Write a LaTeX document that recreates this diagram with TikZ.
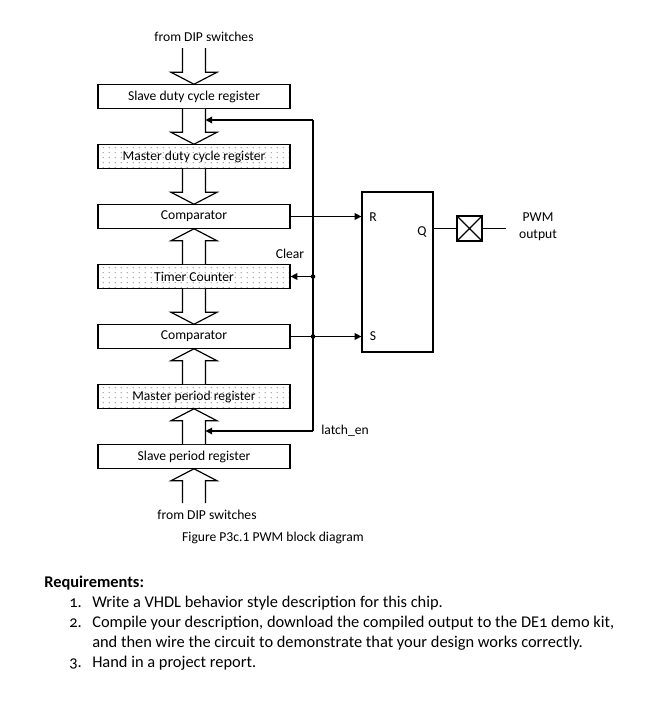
\documentclass[tikz,border=0pt]{standalone}
\usepackage{fontspec}
\setmainfont{Carlito}
\newfontfamily\reqfont[Numbers=OldStyle]{Carlito}
\usetikzlibrary{arrows.meta,calc,patterns}
\pgfdeclarepatternformonly{sdots}{\pgfpointorigin}{\pgfpoint{4.5pt}{3.6pt}}{\pgfpoint{4.5pt}{3.6pt}}{%
  \pgfpathcircle{\pgfpoint{1pt}{1pt}}{0.45pt}\pgfusepath{fill}}
\tikzset{
  blk/.style={draw,line width=0.9pt,minimum width=144pt,minimum height=17.5pt,inner sep=0pt,font=\fontsize{10.2pt}{12pt}\selectfont,fill=white},
  dotblk/.style={blk,pattern=sdots,pattern color=black!65},
  lbl/.style={inner sep=0pt,font=\fontsize{10.2pt}{12pt}\selectfont},
  wire/.style={line width=0.9pt},
  arr/.style={wire,-{Triangle[length=5pt,width=5pt]}},
  hol/.style={line width=0.9pt,fill=white,line join=miter},
  req/.style={inner sep=0pt,anchor=base west,font=\reqfont\fontsize{12.3pt}{15pt}\selectfont},
}
\newcommand\harrow[3]{%
  \draw[hol] ($(#1)+(-11.5,0)$) -- ($(#2)+(-11.5,#3)$) -- ($(#2)+(-23,#3)$) -- (#2)
     -- ($(#2)+(23,#3)$) -- ($(#2)+(11.5,#3)$) -- ($(#1)+(11.5,0)$);}
\begin{document}
\begin{tikzpicture}[x=0.75pt,y=-0.75pt]
\useasboundingbox (0,0) rectangle (660,721);
% blocks
\node[blk] (sdc) at (194,96.5) {Slave duty cycle register};
\node[dotblk] (mdc) at (194,156.5) {};
\node[lbl] at (mdc) {Master duty cycle register};
\node[blk] (cmp1) at (194,216.5) {Comparator};
\node[dotblk] (tc) at (194,276.5) {};
\node[lbl] at (tc) {Timer Counter};
\node[blk] (cmp2) at (194,336.5) {Comparator};
\node[dotblk] (mpr) at (194,396.5) {};
\node[lbl] at (mpr) {Master period register};
\node[blk] (spr) at (194,456.5) {Slave period register};
% sr latch
\node[draw,line width=0.9pt,minimum width=53.25pt,minimum height=120pt,inner sep=0pt] (sr) at (397.5,272) {};
\node[lbl] (rl) at (373,217) {R};
\node[lbl] (sl) at (373,336) {S};
\node[lbl] (ql) at (422,232) {Q};
% output pad
\node[draw,line width=0.9pt,minimum width=18.75pt,minimum height=18.75pt,inner sep=0pt] (pad) at (469.5,228.5) {};
\draw[wire] (pad.north west) -- (pad.south east) (pad.south west) -- (pad.north east);
\coordinate (qo) at (sr.east |- pad.west);
\draw[wire] (qo) -- (pad.west);
\coordinate (pe) at (506,228.5);
\draw[wire] (pad.east) -- (pe);
\node[lbl,align=center,font=\fontsize{10.2pt}{13pt}\selectfont] (pwm) at (538,227) {PWM\\output};
% texts
\node[lbl] (dip1) at (204,37) {from DIP switches};
\node[lbl] (dip2) at (207,515) {from DIP switches};
\node[lbl] (clr) at (290,254) {Clear};
\node[lbl] (len) at (345,431) {latch\_en};
\node[lbl] (cap) at (273,538) {Figure P3c.1 PWM block diagram};
% hollow arrows
\coordinate (t0) at (194,48);
\coordinate (b0) at (194,503);
\harrow{t0}{sdc.north}{-12}
\harrow{sdc.south}{mdc.north}{-12}
\harrow{mdc.south}{cmp1.north}{-12}
\harrow{tc.north}{cmp1.south}{12}
\harrow{tc.south}{cmp2.north}{-12}
\harrow{mpr.north}{cmp2.south}{12}
\harrow{spr.north}{mpr.south}{12}
\harrow{b0}{spr.south}{12}
% control wiring
\coordinate (fbt) at (313,120);
\coordinate (fbb) at (313,431);
\coordinate (fbl) at (205.5,120);
\coordinate (lel) at (205.5,431);
\coordinate (j1) at (313,276.5);
\coordinate (j2) at (313,336.5);
\draw[wire] (fbt) -- (fbb);
\draw[arr] (fbt) -- (fbl);
\draw[arr] (fbb) -- (lel);
\draw[arr] (j1) -- (tc.east);
\draw[arr] (cmp1.east) -- (sr.west |- cmp1.east);
\draw[arr] (cmp2.east) -- (sr.west |- cmp2.east);
\fill (j1) circle (2.3);
\fill (j2) circle (2.3);
% requirements
\node[req,font=\reqfont\bfseries\fontsize{12.3pt}{15pt}\selectfont] (rq) at (44,587) {Requirements:};
\node[req] (n1) at (69,607) {1.};
\node[req] (r1) at (92,607) {Write a VHDL behavior style description for this chip.};
\node[req] (n2) at (69,627) {2.};
\node[req] (r2) at (92,627) {Compile your description, download the compiled output to the DE1 demo kit,};
\node[req] (r2b) at (92,647) {and then wire the circuit to demonstrate that your design works correctly.};
\node[req] (n3) at (69,667) {3.};
\node[req] (r3) at (92,667) {Hand in a project report.};
\end{tikzpicture}
\end{document}
